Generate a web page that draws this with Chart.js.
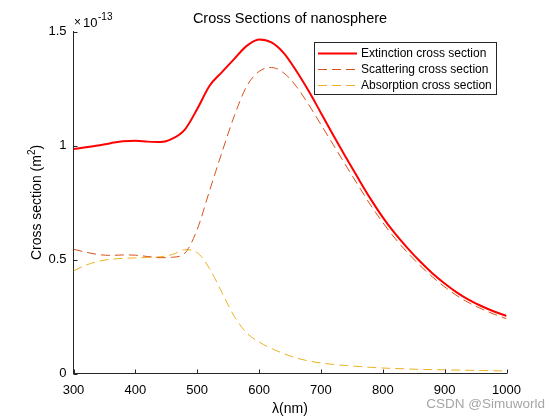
<!DOCTYPE html>
<html>
<head>
<meta charset="utf-8">
<script src="https://cdn.jsdelivr.net/npm/chart.js@4.4.1/dist/chart.umd.min.js"></script>
<style>
  html, body { margin: 0; padding: 0; background: #fff; }
  #wrap { width: 560px; height: 420px; position: relative; }
</style>
</head>
<body>
<div id="wrap"><canvas id="chart" width="560" height="420"></canvas></div>
<script>
// wavelength (nm) and cross sections in units of 1e-13 m^2
const wavelength = [300, 320, 340, 360, 380, 400, 420, 440, 460, 480, 500, 520, 540, 560, 580, 600, 620, 640, 660, 680,
    700, 720, 740, 760, 780, 800, 820, 840, 860, 880, 900, 920, 940, 960, 980, 1000];
const extinction = [0.985, 0.992, 1.000, 1.010, 1.019, 1.021, 1.017, 1.015, 1.030, 1.070, 1.160, 1.262, 1.322, 1.380,
    1.437, 1.465, 1.452, 1.405, 1.328, 1.240, 1.143, 1.045, 0.950, 0.857, 0.767, 0.685, 0.613, 0.550, 0.492, 0.440,
    0.395, 0.355, 0.322, 0.295, 0.272, 0.252];
const scattering = [0.545, 0.532, 0.522, 0.518, 0.520, 0.519, 0.513, 0.508, 0.510, 0.528, 0.632, 0.802, 0.970, 1.130,
    1.260, 1.325, 1.342, 1.318, 1.260, 1.180, 1.092, 1.003, 0.914, 0.826, 0.740, 0.662, 0.592, 0.530, 0.474, 0.424,
    0.380, 0.341, 0.309, 0.283, 0.260, 0.240];
const absorption = [0.450, 0.475, 0.492, 0.501, 0.505, 0.507, 0.509, 0.512, 0.522, 0.543, 0.530, 0.460, 0.355, 0.250,
    0.178, 0.138, 0.110, 0.087, 0.068, 0.055, 0.046, 0.040, 0.035, 0.031, 0.027, 0.024, 0.022, 0.020, 0.018, 0.017,
    0.016, 0.015, 0.014, 0.013, 0.012, 0.011];
const seriesNames = ['Extinction cross section', 'Scattering cross section', 'Absorption cross section'];
const xTicks = [300, 400, 500, 600, 700, 800, 900, 1000];
const xTickLabels = ['300', '400', '500', '600', '700', '800', '900', '1000'];
const yTicks = [0, 0.5, 1, 1.5];
const yTickLabels = ['0', '0.5', '1', '1.5'];

const FONT = '"Liberation Sans", Arial, Helvetica, sans-serif';

function toPoints(ys) {
    return wavelength.map((x, i) => ({ x: x, y: ys[i] }));
}

// всё, что рисуем поверх: заголовок, подписи осей, засечки внутрь, легенда
const decorations = {
    id: 'decorations',
    afterDraw(chart) {
        const ctx = chart.ctx;
        const area = chart.chartArea;
        const xs = chart.scales.x;
        const ys = chart.scales.y;
        ctx.save();

        // inward ticks
        ctx.strokeStyle = '#262626';
        ctx.lineWidth = 1;
        ctx.beginPath();
        xTicks.forEach(v => {
            const px = Math.round(xs.getPixelForValue(v)) + 0.5;
            ctx.moveTo(px, area.bottom);
            ctx.lineTo(px, area.bottom - 4);
        });
        yTicks.forEach(v => {
            const py = Math.round(ys.getPixelForValue(v)) + 0.5;
            ctx.moveTo(area.left, py);
            ctx.lineTo(area.left + 4, py);
        });
        ctx.stroke();

        ctx.fillStyle = '#000';
        // title
        ctx.font = '14.5px ' + FONT;
        ctx.textAlign = 'center';
        ctx.textBaseline = 'middle';
        ctx.fillText('Cross Sections of nanosphere', (area.left + area.right) / 2, 19);

        // x label
        ctx.font = '14px ' + FONT;
        ctx.fillText('\u03bb(nm)', (area.left + area.right) / 2, 409);

        // y label with superscript
        ctx.save();
        ctx.translate(37, (area.top + area.bottom) / 2);
        ctx.rotate(-Math.PI / 2);
        ctx.textAlign = 'left';
        ctx.font = '14px ' + FONT;
        const main = 'Cross section (m';
        const wMain = ctx.measureText(main).width;
        ctx.font = '10px ' + FONT;
        const wSup = ctx.measureText('2').width;
        ctx.font = '14px ' + FONT;
        const wEnd = ctx.measureText(')').width;
        let start = -(wMain + wSup + wEnd) / 2;
        ctx.fillText(main, start, 0);
        ctx.font = '10px ' + FONT;
        ctx.fillText('2', start + wMain, -5);
        ctx.font = '14px ' + FONT;
        ctx.fillText(')', start + wMain + wSup, 0);
        ctx.restore();

        // exponent label
        ctx.textAlign = 'left';
        ctx.font = '12px ' + FONT;
        ctx.fillText('\u00d7', 74, 23);
        ctx.font = '13px ' + FONT;
        ctx.fillText('10', 83, 23);
        ctx.font = '10px ' + FONT;
        ctx.fillText('-13', 98, 17);

        // legend
        const lx = 314.5, ly = 42.5, lw = 182, lh = 52;
        ctx.fillStyle = '#fff';
        ctx.fillRect(lx, ly, lw, lh);
        ctx.strokeStyle = '#262626';
        ctx.lineWidth = 1;
        ctx.strokeRect(lx, ly, lw, lh);
        chart.data.datasets.forEach((ds, i) => {
            const yy = 53.5 + i * 16;
            ctx.beginPath();
            ctx.strokeStyle = ds.borderColor;
            ctx.lineWidth = ds.borderWidth;
            ctx.setLineDash(ds.borderDash || []);
            ctx.moveTo(318, yy);
            ctx.lineTo(357, yy);
            ctx.stroke();
            ctx.setLineDash([]);
            ctx.fillStyle = '#000';
            ctx.font = '12px ' + FONT;
            ctx.textBaseline = 'middle';
            ctx.fillText(ds.label, 361, yy);
        });

        // watermark
        ctx.fillStyle = '#a6a6a6';
        ctx.font = '13.5px ' + FONT;
        ctx.textAlign = 'right';
        ctx.fillText('CSDN @Simuworld', 545, 404);

        ctx.restore();
    }
};

const ctx = document.getElementById('chart').getContext('2d');
new Chart(ctx, {
    type: 'line',
    data: {
        datasets: [
            {
                label: seriesNames[0],
                data: toPoints(extinction),
                borderColor: '#ff0000',
                borderWidth: 2,
            },
            {
                label: seriesNames[1],
                data: toPoints(scattering),
                borderColor: '#d95319',
                borderWidth: 1,
                borderDash: [9, 5],
            },
            {
                label: seriesNames[2],
                data: toPoints(absorption),
                borderColor: '#edb120',
                borderWidth: 1,
                borderDash: [9, 5],
            }
        ]
    },
    options: {
        responsive: false,
        animation: false,
        devicePixelRatio: 1,
        layout: { padding: { top: 31.5, right: 53.5, left: 0, bottom: 0 } },
        elements: {
            point: { radius: 0 },
            line: { cubicInterpolationMode: 'monotone', fill: false }
        },
        plugins: {
            legend: { display: false },
            title: { display: false },
            tooltip: { enabled: false }
        },
        scales: {
            x: {
                type: 'linear',
                min: 300,
                max: 1000,
                afterFit: s => { s.height = 46.5; },
                afterBuildTicks: s => { s.ticks = xTicks.map(v => ({ value: v })); },
                grid: { drawOnChartArea: false, drawTicks: false },
                border: { color: '#262626', width: 1 },
                ticks: {
                    color: '#000', padding: 9, autoSkip: false, maxRotation: 0, font: { family: FONT, size: 13 },
                    callback: (v) => xTickLabels[xTicks.indexOf(v)]
                }
            },
            y: {
                min: 0,
                max: 1.5,
                afterFit: s => { s.width = 73.5; },
                afterBuildTicks: s => { s.ticks = yTicks.map(v => ({ value: v })); },
                grid: { drawOnChartArea: false, drawTicks: false },
                border: { color: '#262626', width: 1 },
                ticks: {
                    color: '#000', padding: 7, autoSkip: false, font: { family: FONT, size: 13 },
                    callback: (v) => yTickLabels[yTicks.indexOf(v)]
                }
            }
        }
    },
    plugins: [decorations]
});
</script>
</body>
</html>
